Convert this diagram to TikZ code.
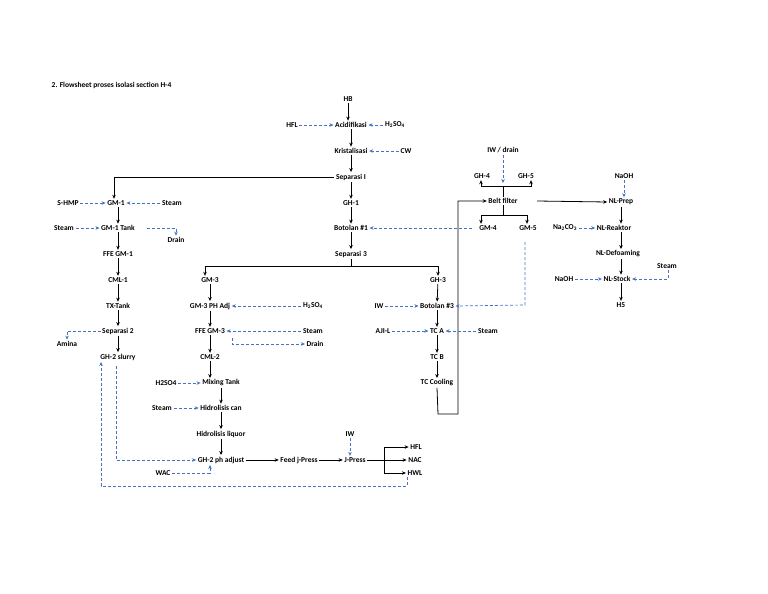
\documentclass[tikz,border=0pt]{standalone}
\usepackage{fontspec}
\setmainfont{Carlito}
\usetikzlibrary{arrows.meta}
\definecolor{db}{RGB}{68,114,196}
\begin{document}
\begin{tikzpicture}[x=1pt,y=-1pt,
 n/.style={font=\bfseries\fontsize{7.5}{9}\selectfont,inner sep=1.5pt},
 s/.style={draw=black,line width=0.8pt,-{Stealth[length=4pt,width=3.5pt]}},
 sl/.style={draw=black,line width=0.8pt},
 d/.style={draw=db,line width=0.7pt,dash pattern=on 3pt off 2pt,-{Stealth[length=4pt,width=3.5pt]}},
 dl/.style={draw=db,line width=0.7pt,dash pattern=on 3pt off 2pt}]
\useasboundingbox (0,0) rectangle (768,594);
\node[n,anchor=west] (title) at (50,85) {2. Flowsheet proses isolasi section H-4};
% main column
\node[n] (hb) at (348,99) {HB};
\node[n] (hfl) at (292,125) {HFL};
\node[n] (acid) at (351,125) {Acidifikasi};
\node[n] (h2so4a) at (395,125) {H\textsubscript{2}SO\textsubscript{4}};
\node[n] (kris) at (351,151) {Kristalisasi};
\node[n] (cw) at (406,151) {CW};
\node[n] (sep1) at (351,177) {Separasi I};
\node[n] (gh1) at (351,203) {GH-1};
\node[n] (bot1) at (351,228) {Botolan \#1};
\node[n] (sep3) at (351,254) {Separasi 3};
% left column
\node[n] (gm1) at (116,203) {GM-1};
\node[n] (shmp) at (68,203) {S-HMP};
\node[n] (st1) at (172,203) {Steam};
\node[n] (st2) at (64,228) {Steam};
\node[n] (gm1t) at (118,228) {GM-1 Tank};
\node[n] (dr1) at (176,240) {Drain};
\node[n] (ffe1) at (118,254) {FFE GM-1};
\node[n] (cml1) at (118,280) {CML-1};
\node[n] (tx) at (118,306) {TX-Tank};
\node[n] (sep2) at (118,331) {Separasi 2};
\node[n] (amina) at (67,344) {Amina};
\node[n] (gh2s) at (118,357) {GH-2 slurry};
% middle column
\node[n] (gm3) at (210,280) {GM-3};
\node[n] (gm3ph) at (210,306) {GM-3 PH Adj};
\node[n] (h2so4b) at (313,306) {H\textsubscript{2}SO\textsubscript{4}};
\node[n] (ffe3) at (210,331) {FFE GM-3};
\node[n] (st3) at (313,331) {Steam};
\node[n] (dr2) at (315,344) {Drain};
\node[n] (cml2) at (210,357) {CML-2};
\node[n] (h2so4c) at (166,383) {H2SO4};
\node[n] (mix) at (221,383) {Mixing Tank};
\node[n] (st4) at (162,408) {Steam};
\node[n] (hcan) at (221,408) {Hidrolisis can};
\node[n] (hliq) at (221,434) {Hidrolisis liquor};
\node[n] (gh2p) at (221,460) {GH-2 ph adjust};
\node[n] (wac) at (163,473) {WAC};
\node[n] (feed) at (299,460) {Feed j-Press};
\node[n] (iw1) at (350,434) {IW};
\node[n] (jp) at (355,460) {J-Press};
\node[n] (hfl2) at (416,447) {HFL};
\node[n] (nac) at (415,460) {NAC};
\node[n] (hwl) at (415,473) {HWL};
% right-middle column
\node[n] (gh3) at (438,280) {GH-3};
\node[n] (iw2) at (379,306) {IW};
\node[n] (bot3) at (437,306) {Botolan \#3};
\node[n] (ajil) at (383,331) {AJI-L};
\node[n] (tca) at (437,331) {TC A};
\node[n] (st5) at (488,331) {Steam};
\node[n] (tcb) at (437,357) {TC B};
\node[n] (tcc) at (437,383) {TC Cooling};
% belt filter group
\node[n] (iwd) at (503,150) {IW / drain};
\node[n] (gh4) at (482,176) {GH-4};
\node[n] (gh5) at (526,176) {GH-5};
\node[n] (belt) at (503,201) {Belt filter};
\node[n] (gm4) at (488,228) {GM-4};
\node[n] (gm5) at (528,228) {GM-5};
% NL column
\node[n] (naoh1) at (624,176) {NaOH};
\node[n] (nlp) at (621,202) {NL-Prep};
\node[n] (na2) at (565,228) {Na\textsubscript{2}CO\textsubscript{3}};
\node[n] (nlr) at (614,228) {NL-Reaktor};
\node[n] (nld) at (618,254) {NL-Defoaming};
\node[n] (st6) at (667,266) {Steam};
\node[n] (naoh2) at (564,279) {NaOH};
\node[n] (nls) at (617,279) {NL-Stock};
\node[n] (h5) at (621,305) {H5};
\coordinate (c1) at (114,177);
% solid flows
\draw[s] (hb) -- (hb|-acid.north);
\draw[s] (acid) -- (kris);
\draw[s] (kris) -- (sep1);
\draw[s] (sep1) -- (gh1);
\draw[s] (gh1) -- (bot1);
\draw[s] (bot1) -- (sep3);
\draw[s] (sep1.west) -- (c1) -- (gm1.north-|c1);
\draw[s] (gm1.south-|gm1t) -- (gm1t);
\draw[s] (gm1t) -- (ffe1);
\draw[s] (ffe1) -- (cml1);
\draw[s] (cml1) -- (tx);
\draw[s] (tx) -- (sep2);
\draw[s] (sep2) -- (gh2s);
\draw[sl] (sep3.south) -- (sep3.south|-0,266);
\draw[s] (205,266) -- (438,266) -- (gh3.north);
\draw[s] (205,266) -- (gm3.north-|205,0);
\draw[s] (gm3) -- (gm3ph);
\draw[s] (gm3ph) -- (ffe3);
\draw[s] (ffe3) -- (cml2);
\draw[s] (cml2) -- (cml2|-mix.north);
\draw[s] (mix) -- (hcan);
\draw[s] (hcan) -- (hliq);
\draw[s] (hliq) -- (gh2p);
\draw[s] (gh2p) -- (feed);
\draw[s] (feed) -- (jp);
\draw[sl] (jp.east) -- (384,460);
\draw[s] (384,447) -- (hfl2.west);
\draw[s] (384,460) -- (nac.west);
\draw[s] (384,473) -- (hwl.west);
\draw[sl] (384,447) -- (384,473);
\draw[s] (gh3) -- (bot3);
\draw[s] (bot3) -- (tca);
\draw[s] (tca) -- (tcb);
\draw[s] (tcb) -- (tcc);
\draw[s] (tcc.south) -- (438,414) -- (458,414) -- (458,201) -- (belt.west);
\draw[sl] (belt.north) -- (belt.north|-0,186);
\draw[s] (503,186) -- (481,186) -- (gh4.south-|481,0);
\draw[s] (503,186) -- (531,186) -- (gh5.south-|531,0);
\draw[sl] (belt.south) -- (503,215);
\draw[s] (503,215) -- (481,215) -- (gm4.north-|481,0);
\draw[s] (503,215) -- (527,215) -- (gm5.north-|527,0);
\draw[s] (537,201) -- (nlp.west);
\draw[s] (nlp) -- (nlp|-nlr.north);
\draw[s] (nlr.south-|nlp) -- (nlp|-nld.north);
\draw[s] (nld.south-|nlp) -- (nlp|-nls.north);
\draw[s] (nls.south-|nlp) -- (nlp|-h5.north);
% dashed utilities
\draw[d] (hfl) -- (acid);
\draw[d] (h2so4a) -- (acid);
\draw[d] (cw) -- (kris);
\draw[d] (shmp) -- (gm1);
\draw[d] (st1) -- (gm1);
\draw[d] (st2) -- (gm1t);
\draw[d] (gm1t.east) ++(10,0) -- (176,228) -- (dr1.north);
\draw[d] (sep2.west) -- (67,331) -- (amina.north);
\draw[d] (h2so4b) -- (gm3ph);
\draw[d] (st3) -- (ffe3);
\draw[d] (232,338) -- (232,344) -- (dr2.west);
\draw[d] (h2so4c) -- (mix);
\draw[d] (st4) -- (hcan);
\draw[d] (116,366) -- (116,460) -- (gh2p.west);
\draw[d] (wac.east) -- (210,473) -- (gh2p.south-|210,0);
\draw[d] (iw1) -- (jp.north-|iw1);
\draw[d] (407,477) -- (407,486) -- (101,486) -- (gh2s.south-|101,0);
\draw[d] (iw2) -- (bot3);
\draw[d] (ajil) -- (tca);
\draw[d] (st5) -- (tca);
\draw[d] (gm4.west) ++(-6,0) -- (bot1.east);
\draw[d] (gm5.south-|525,0) ++(0,10) -- (525,305) -- (bot3.east);
\draw[d] (iwd.south-|503,0) -- (503,183);
\draw[d] (naoh1) -- (naoh1|-nlp.north);
\draw[d] (na2) -- (nlr);
\draw[d] (naoh2) -- (nls);
\draw[d] (st6.south-|668,0) -- (668,279) -- (nls.east);
\end{tikzpicture}
\end{document}
